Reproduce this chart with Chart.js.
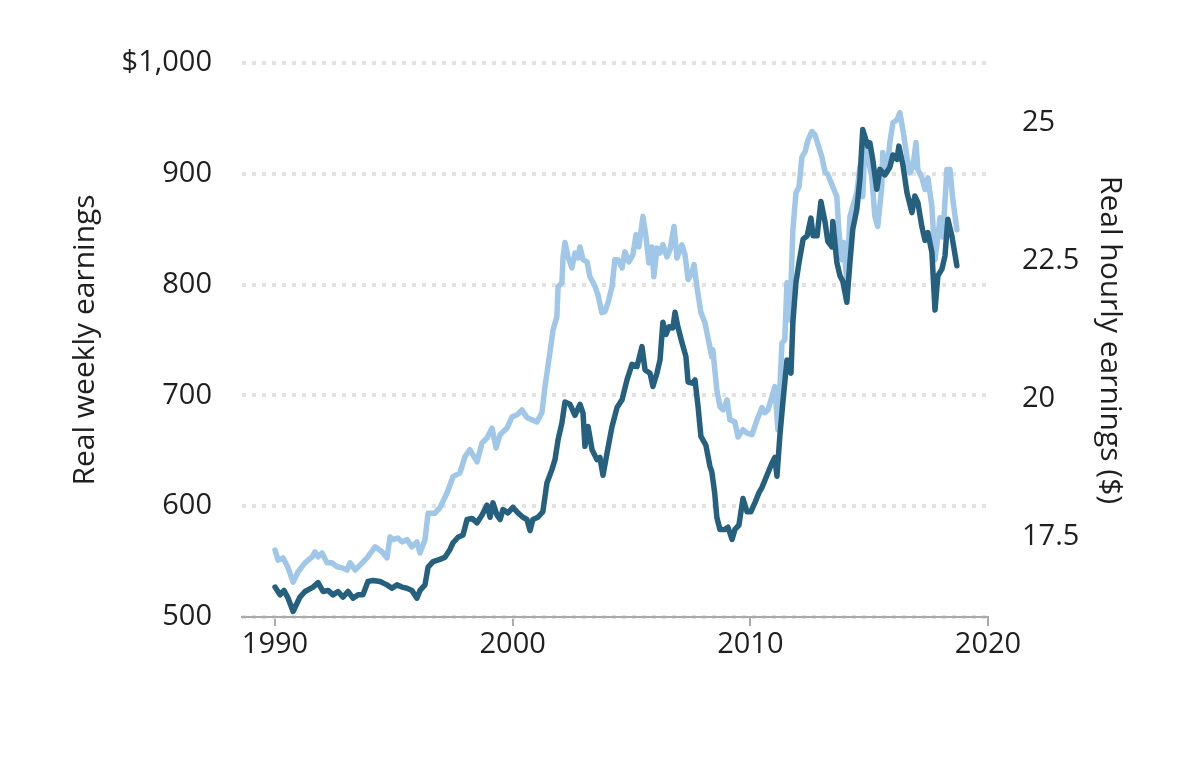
<!DOCTYPE html>
<html>
<head>
<meta charset="utf-8">
<title>Real weekly and hourly earnings</title>
<script src="https://cdn.jsdelivr.net/npm/chart.js@4/dist/chart.umd.min.js"></script>
<style>
  html, body { margin: 0; padding: 0; background: #fff; }
  #wrap { width: 1200px; height: 766px; }
</style>
</head>
<body>
<div id="wrap"><canvas id="earnings-chart" width="1200" height="766"></canvas></div>
<script>
// Real weekly earnings (left axis)
const weeklyYears = [
  1990.00, 1990.21, 1990.38, 1990.55, 1990.76, 1991.05, 1991.26, 1991.60, 1991.81, 1992.02,
  1992.23, 1992.44, 1992.65, 1992.86, 1993.07, 1993.28, 1993.49, 1993.70, 1993.91, 1994.12,
  1994.42, 1994.71, 1994.92, 1995.13, 1995.34, 1995.55, 1995.76, 1995.97, 1996.10, 1996.31,
  1996.44, 1996.65, 1996.94, 1997.15, 1997.36, 1997.49, 1997.70, 1997.91, 1998.08, 1998.29,
  1998.50, 1998.71, 1998.92, 1999.05, 1999.17, 1999.34, 1999.47, 1999.59, 1999.80, 2000.01,
  2000.22, 2000.43, 2000.60, 2000.73, 2000.85, 2001.06, 2001.27, 2001.44, 2001.65, 2001.78,
  2001.91, 2002.07, 2002.20, 2002.41, 2002.62, 2002.83, 2002.96, 2003.04, 2003.17, 2003.34,
  2003.55, 2003.67, 2003.80, 2003.97, 2004.18, 2004.39, 2004.60, 2004.81, 2005.02, 2005.23,
  2005.44, 2005.57, 2005.78, 2005.90, 2006.07, 2006.20, 2006.32, 2006.45, 2006.58, 2006.74,
  2006.83, 2006.95, 2007.12, 2007.29, 2007.38, 2007.59, 2007.67, 2007.80, 2007.92, 2008.13,
  2008.30, 2008.38, 2008.50, 2008.59, 2008.72, 2008.93, 2009.06, 2009.23, 2009.35, 2009.52,
  2009.69, 2009.86, 2010.02, 2010.19, 2010.36, 2010.49, 2010.70, 2010.91, 2011.03, 2011.12,
  2011.24, 2011.37, 2011.54, 2011.71, 2011.79, 2011.92, 2012.05, 2012.22, 2012.39, 2012.55,
  2012.64, 2012.81, 2012.97, 2013.14, 2013.26, 2013.43, 2013.47, 2013.64, 2013.77, 2013.89,
  2014.06, 2014.19, 2014.31, 2014.48, 2014.61, 2014.73, 2014.94, 2015.03, 2015.15, 2015.32,
  2015.45, 2015.66, 2015.87, 2016.00, 2016.17, 2016.25, 2016.42, 2016.59, 2016.80, 2016.92,
  2017.05, 2017.22, 2017.35, 2017.47, 2017.64, 2017.77, 2017.89, 2018.06, 2018.19, 2018.31,
  2018.48, 2018.69
];
const weeklyValues = [
  527, 520, 524, 517, 505, 518, 523, 527, 531, 523,
  524, 520, 523, 518, 523, 517, 520, 520, 532, 533,
  532, 529, 526, 529, 527, 526, 524, 517, 524, 529,
  545, 550, 552, 554, 561, 567, 572, 574, 588, 589,
  585, 592, 601, 590, 603, 592, 588, 597, 594, 599,
  594, 590, 588, 578, 588, 590, 595, 621, 633, 642,
  660, 675, 694, 692, 682, 692, 684, 654, 672, 651,
  642, 644, 628, 648, 672, 689, 696, 714, 728, 726,
  744, 723, 720, 708, 720, 732, 766, 755, 762, 761,
  775, 762, 748, 735, 712, 711, 714, 690, 663, 655,
  636, 631, 612, 590, 579, 579, 581, 570, 579, 583,
  607, 595, 595, 603, 612, 617, 628, 639, 644, 627,
  663, 694, 732, 720, 766, 802, 820, 841, 844, 860,
  844, 844, 875, 857, 839, 834, 857, 820, 808, 803,
  784, 820, 850, 868, 895, 940, 925, 928, 913, 886,
  904, 899, 906, 917, 913, 925, 908, 883, 865, 880,
  874, 852, 840, 847, 829, 777, 808, 814, 826, 859,
  844, 817
];

// Real hourly earnings (right axis)
const hourlyYears = [
  1990.00, 1990.13, 1990.34, 1990.55, 1990.76, 1990.97, 1991.26, 1991.56, 1991.68, 1991.81,
  1991.98, 1992.19, 1992.40, 1992.61, 1992.82, 1993.03, 1993.16, 1993.37, 1993.58, 1993.87,
  1994.21, 1994.50, 1994.71, 1994.84, 1994.96, 1995.17, 1995.34, 1995.55, 1995.76, 1995.97,
  1996.10, 1996.31, 1996.44, 1996.73, 1996.94, 1997.24, 1997.49, 1997.78, 1997.99, 1998.20,
  1998.50, 1998.71, 1998.92, 1999.13, 1999.30, 1999.47, 1999.76, 1999.97, 2000.18, 2000.39,
  2000.60, 2000.81, 2001.02, 2001.23, 2001.36, 2001.48, 2001.70, 2001.86, 2001.91, 2002.07,
  2002.12, 2002.20, 2002.33, 2002.49, 2002.62, 2002.75, 2002.83, 2002.96, 2003.13, 2003.25,
  2003.46, 2003.59, 2003.75, 2003.88, 2004.01, 2004.18, 2004.30, 2004.43, 2004.60, 2004.72,
  2004.89, 2005.06, 2005.19, 2005.31, 2005.48, 2005.61, 2005.73, 2005.86, 2005.94, 2006.07,
  2006.20, 2006.32, 2006.49, 2006.62, 2006.79, 2006.91, 2007.12, 2007.25, 2007.38, 2007.54,
  2007.63, 2007.75, 2007.92, 2008.09, 2008.21, 2008.38, 2008.42, 2008.59, 2008.72, 2008.85,
  2009.02, 2009.14, 2009.35, 2009.48, 2009.69, 2009.86, 2010.07, 2010.28, 2010.49, 2010.61,
  2010.74, 2010.91, 2011.03, 2011.16, 2011.33, 2011.45, 2011.54, 2011.66, 2011.79, 2011.92,
  2012.05, 2012.17, 2012.30, 2012.43, 2012.59, 2012.72, 2012.85, 2013.01, 2013.14, 2013.26,
  2013.43, 2013.64, 2013.72, 2013.85, 2013.93, 2014.06, 2014.19, 2014.31, 2014.48, 2014.61,
  2014.73, 2014.82, 2014.94, 2015.11, 2015.24, 2015.36, 2015.53, 2015.57, 2015.74, 2015.87,
  2016.00, 2016.17, 2016.29, 2016.42, 2016.59, 2016.71, 2016.84, 2016.97, 2017.05, 2017.22,
  2017.35, 2017.47, 2017.64, 2017.77, 2017.89, 2017.98, 2018.10, 2018.27, 2018.40, 2018.52,
  2018.69
];
const hourlyValues = [
  17.26, 17.08, 17.12, 16.94, 16.68, 16.87, 17.03, 17.14, 17.23, 17.14,
  17.21, 17.03, 17.03, 16.96, 16.94, 16.90, 17.03, 16.90, 16.99, 17.12,
  17.32, 17.23, 17.12, 17.50, 17.45, 17.48, 17.41, 17.45, 17.32, 17.41,
  17.21, 17.45, 17.93, 17.93, 18.03, 18.30, 18.59, 18.66, 18.95, 19.08,
  18.86, 19.20, 19.29, 19.47, 19.11, 19.35, 19.47, 19.67, 19.71, 19.80,
  19.66, 19.62, 19.58, 19.75, 20.22, 20.58, 21.25, 21.49, 22.03, 22.10,
  22.57, 22.83, 22.57, 22.37, 22.64, 22.55, 22.75, 22.52, 22.48, 22.21,
  22.04, 21.88, 21.56, 21.58, 21.74, 22.03, 22.52, 22.52, 22.37, 22.66,
  22.48, 22.61, 22.97, 22.75, 23.30, 22.93, 22.46, 22.75, 22.21, 22.73,
  22.64, 22.79, 22.57, 22.70, 23.12, 22.55, 22.79, 22.61, 22.16, 22.28,
  22.43, 22.03, 21.56, 21.38, 21.12, 20.76, 20.89, 20.16, 19.86, 19.80,
  19.98, 19.62, 19.58, 19.31, 19.44, 19.38, 19.35, 19.62, 19.84, 19.75,
  19.80, 20.04, 20.22, 19.44, 21.01, 21.07, 22.10, 21.43, 23.06, 23.73,
  23.84, 24.38, 24.47, 24.69, 24.84, 24.78, 24.60, 24.38, 24.11, 24.06,
  23.88, 23.66, 23.06, 22.52, 22.83, 22.10, 23.30, 23.48, 23.73, 24.20,
  23.66, 24.69, 24.38, 24.02, 23.30, 23.12, 23.84, 24.46, 24.09, 24.64,
  25.00, 25.05, 25.18, 24.87, 24.38, 24.09, 24.20, 24.64, 24.15, 24.00,
  23.79, 24.00, 23.48, 22.52, 22.93, 23.28, 22.93, 24.15, 24.15, 23.61,
  23.06
];

// Tick labels
const yearTicks = [1990, 2000, 2010, 2020];
const weeklyTicks = [500, 600, 700, 800, 900, 1000];
const hourlyTicks = [17.5, 20, 22.5, 25];

const FONT = "'Open Sans', 'DejaVu Sans', sans-serif";
const TEXT_COLOR = '#1f1f1f';
const DARK_BLUE = '#25607f';
const LIGHT_BLUE = '#a0c6e8';

const toPoints = (xs, ys) => xs.map((x, i) => ({ x: x, y: ys[i] }));

const ctx = document.getElementById('earnings-chart').getContext('2d');

new Chart(ctx, {
  type: 'line',
  data: {
    datasets: [
      {
        label: 'Real weekly earnings',
        data: toPoints(weeklyYears, weeklyValues),
        yAxisID: 'weekly',
        borderColor: DARK_BLUE,
        borderWidth: 5.5,
        pointRadius: 0,
        tension: 0,
        borderJoinStyle: 'round',
        borderCapStyle: 'round'
      },
      {
        label: 'Real hourly earnings',
        data: toPoints(hourlyYears, hourlyValues),
        yAxisID: 'hourly',
        borderColor: LIGHT_BLUE,
        borderWidth: 5.5,
        pointRadius: 0,
        tension: 0,
        borderJoinStyle: 'round',
        borderCapStyle: 'round'
      }
    ]
  },
  options: {
    responsive: false,
    animation: false,
    layout: { padding: { top: 63, left: 0, right: 0, bottom: 0 } },
    plugins: {
      legend: { display: false },
      tooltip: { enabled: false }
    },
    scales: {
      x: {
        type: 'linear',
        min: 1988.61,
        max: 2020,
        afterBuildTicks: (scale) => { scale.ticks = yearTicks.map(v => ({ value: v })); },
        afterFit: (scale) => { scale.height = 149; },
        border: { display: true, color: '#aaaaaa', width: 2 },
        grid: {
          drawOnChartArea: false,
          drawTicks: true,
          tickLength: 9,
          color: '#aaaaaa',
          lineWidth: 2
        },
        ticks: {
          padding: 1,
          color: TEXT_COLOR,
          font: { family: FONT, size: 29 },
          maxRotation: 0,
          callback: (v) => String(v)
        }
      },
      weekly: {
        type: 'linear',
        position: 'left',
        min: 500,
        max: 1000,
        afterBuildTicks: (scale) => { scale.ticks = weeklyTicks.map(v => ({ value: v })); },
        afterFit: (scale) => { scale.width = 242; },
        // in v4 the grid line dash lives on the border options
        border: { display: false, dash: [4, 6] },
        grid: {
          drawTicks: false,
          color: '#e2e2e2',
          lineWidth: 4
        },
        ticks: {
          padding: 30,
          color: TEXT_COLOR,
          font: { family: FONT, size: 29 },
          callback: (v) => v === 1000 ? '$1,000' : String(v)
        },
        title: {
          display: true,
          text: 'Real weekly earnings',
          color: TEXT_COLOR,
          font: { family: FONT, size: 30 },
          padding: { top: 67, bottom: 0 }
        }
      },
      hourly: {
        type: 'linear',
        position: 'right',
        min: 16.05,
        max: 26.08,
        afterBuildTicks: (scale) => { scale.ticks = hourlyTicks.map(v => ({ value: v })); },
        afterFit: (scale) => { scale.width = 212; },
        border: { display: false },
        grid: { display: false },
        ticks: {
          padding: 26,
          color: TEXT_COLOR,
          font: { family: FONT, size: 29 },
          callback: (v) => String(v)
        },
        title: {
          display: true,
          text: 'Real hourly earnings ($)',
          color: TEXT_COLOR,
          font: { family: FONT, size: 30 },
          padding: { top: 72, bottom: 0 }
        }
      }
    }
  }
});
</script>
</body>
</html>
